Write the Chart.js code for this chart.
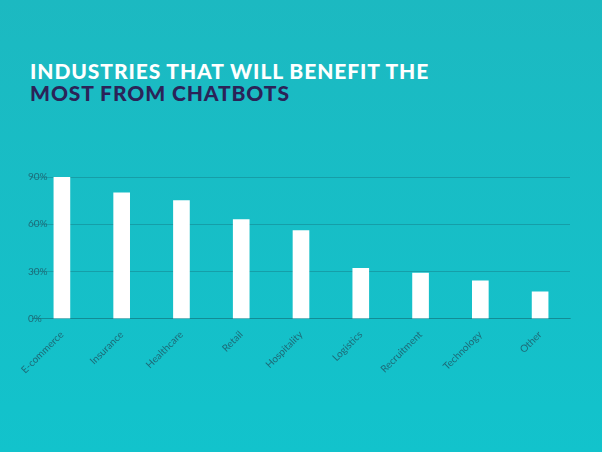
<!DOCTYPE html>
<html><head><meta charset="utf-8">
<script src="https://cdn.jsdelivr.net/npm/chart.js@4/dist/chart.umd.min.js"></script>
<style>
html,body{margin:0;padding:0;width:602px;height:452px;overflow:hidden;}
body{background:linear-gradient(180deg,#1cb9c1 0%,#12c3cc 100%);position:relative;font-family:Lato,"Open Sans",sans-serif;}
#t{position:absolute;left:30px;top:60px;font-weight:900;font-size:21px;line-height:22px;letter-spacing:0.9px;}
#t .a{color:#fff}#t .b{color:#2b2358}
#w{position:absolute;left:0;top:0;width:602px;height:452px;}
</style></head><body>
<div id="t"><div class="a">INDUSTRIES THAT WILL BENEFIT THE</div><div class="b">MOST FROM CHATBOTS</div></div>
<div id="w"><canvas id="c" width="602" height="452"></canvas></div>
<script>
const categories=["E-commerce","Insurance","Healthcare","Retail","Hospitality","Logistics","Recruitment","Technology","Other"];
const values=[90,80,75,63,56,32,29,24,17];
const yTicks=[0,30,60,90];
new Chart(document.getElementById('c'),{
type:'bar',
data:{labels:categories,datasets:[{data:values,backgroundColor:'#ffffff',barThickness:16}]},
options:{responsive:false,animation:false,
layout:{padding:{left:32,right:32,top:177,bottom:74}},
plugins:{legend:{display:false},tooltip:{enabled:false}},
scales:{
x:{grid:{display:false},border:{color:'rgba(20,120,130,0.5)'},
ticks:{color:'#1d6b78',font:{family:'Lato',size:10},maxRotation:45,minRotation:45,padding:2,autoSkip:false}},
y:{min:0,max:90,afterFit:s=>{s.width=0;},
afterBuildTicks:s=>{s.ticks=yTicks.map(v=>({value:v}));},
grid:{color:'rgba(20,120,130,0.45)',drawTicks:false},border:{display:false},
ticks:{mirror:true,padding:-4,color:'#1d6b78',font:{family:'Lato',size:10},callback:v=>v+'%',labelOffset:0}}
}}
});
</script></body></html>
